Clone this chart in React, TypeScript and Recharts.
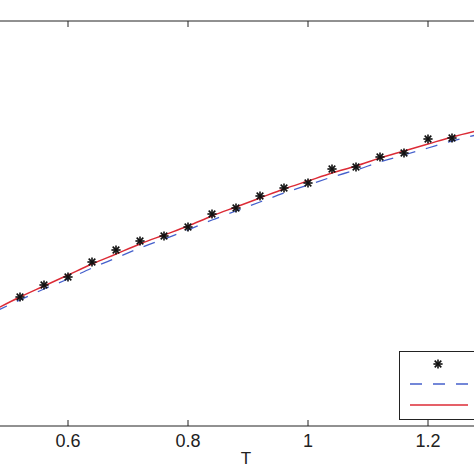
import React from 'react';
import { LineChart, Line, XAxis, YAxis, Legend, Label } from 'recharts';

// T grid shared by every series
const tValues = [0.48, 0.52, 0.56, 0.6, 0.64, 0.68, 0.72, 0.76, 0.8, 0.84, 0.88, 0.92, 0.96, 1.0, 1.04, 1.08, 1.12, 1.16, 1.2, 1.24, 1.28];
// measured points (asterisks)
const starValues = [null, 1.29, 1.41, 1.49, 1.64, 1.76, 1.85, 1.9, 1.99, 2.12, 2.18, 2.3, 2.38, 2.43, 2.57, 2.59, 2.69, 2.73, 2.87, 2.88, null];
// dashed blue curve
const blueValues = [1.15, 1.26, 1.37, 1.47, 1.58, 1.68, 1.78, 1.87, 1.96, 2.06, 2.15, 2.24, 2.33, 2.41, 2.49, 2.56, 2.64, 2.71, 2.78, 2.85, 2.91];
// solid red curve
const redValues = [1.17, 1.29, 1.4, 1.51, 1.62, 1.72, 1.82, 1.91, 2.0, 2.1, 2.19, 2.28, 2.37, 2.45, 2.53, 2.6, 2.68, 2.75, 2.82, 2.89, 2.95];
const xTicks = [0.6, 0.8, 1, 1.2];

const data = tValues.map((t, i) => ({
    t,
    star: starValues[i],
    blue: blueValues[i],
    red: redValues[i],
}));

const RED = '#dc2b36';
const BLUE = '#4560cc';
const AXIS = '#222';

const Asterisk = ({ cx, cy, r = 4.6 }: { cx: number; cy: number; r?: number }) => {
    const d = r * 0.72;
    return (
        <g stroke="#111" strokeWidth={1.6}>
            <line x1={cx - r} y1={cy} x2={cx + r} y2={cy} />
            <line x1={cx} y1={cy - r} x2={cx} y2={cy + r} />
            <line x1={cx - d} y1={cy - d} x2={cx + d} y2={cy + d} />
            <line x1={cx - d} y1={cy + d} x2={cx + d} y2={cy - d} />
        </g>
    );
};

const renderStar = (p: any) => {
    if (p.cx == null || p.cy == null || p.value == null) return <g key={p.index} />;
    return <Asterisk key={p.index} cx={p.cx} cy={p.cy} />;
};

const LegendBox = () => (
    <div style={{ width: 200, height: 69, border: `1px solid ${AXIS}`, background: '#fff', boxSizing: 'border-box' }}>
        <svg width={200} height={67}>
            <Asterisk cx={38} cy={12} />
            <line x1={10} y1={32} x2={68} y2={32} stroke={BLUE} strokeWidth={1.3} strokeDasharray="12 11" />
            <line x1={10} y1={53} x2={68} y2={53} stroke={RED} strokeWidth={1.4} />
        </svg>
    </div>
);

export default function App() {
    return (
        <div style={{ position: 'fixed', left: 0, top: 0, width: 474, height: 474, overflow: 'hidden', background: '#fff' }}>
            <div style={{ position: 'absolute', left: -40, top: 0 }}>
                <LineChart
                    width={572}
                    height={474}
                    data={data}
                    margin={{ top: 1, right: 0, bottom: 0, left: 0 }}
                    style={{ fontFamily: '"Liberation Sans", Arial, sans-serif' }}
                >
                    <XAxis
                        xAxisId="bottom"
                        dataKey="t"
                        type="number"
                        domain={[0.42, 1.37333]}
                        allowDataOverflow
                        ticks={xTicks}
                        tickFormatter={(v) => String(v)}
                        height={48}
                        tickSize={-6}
                        tickMargin={14}
                        stroke={AXIS}
                        tick={{ fill: AXIS, fontSize: 18 }}
                    >
                        <Label value="T" position="insideBottom" offset={10} fill={AXIS} fontSize={17} />
                    </XAxis>
                    <XAxis
                        xAxisId="top"
                        orientation="top"
                        dataKey="t"
                        type="number"
                        domain={[0.42, 1.37333]}
                        allowDataOverflow
                        ticks={xTicks}
                        height={20}
                        tickSize={-6}
                        stroke={AXIS}
                        tick={() => <g />}
                    />
                    <YAxis hide domain={[0, 4.05]} allowDataOverflow />
                    <Legend
                        layout="horizontal"
                        verticalAlign="middle"
                        align="center"
                        wrapperStyle={{ left: 439, top: 351, width: 200, height: 69 }}
                        content={() => <LegendBox />}
                    />
                    <Line
                        xAxisId="bottom"
                        dataKey="blue"
                        type="monotone"
                        stroke={BLUE}
                        strokeWidth={1.3}
                        strokeDasharray="12 11"
                        dot={false}
                        isAnimationActive={false}
                    />
                    <Line
                        xAxisId="bottom"
                        dataKey="red"
                        type="monotone"
                        stroke={RED}
                        strokeWidth={1.4}
                        dot={false}
                        isAnimationActive={false}
                    />
                    <Line
                        xAxisId="bottom"
                        dataKey="star"
                        stroke="none"
                        dot={renderStar}
                        activeDot={false}
                        isAnimationActive={false}
                    />
                </LineChart>
            </div>
        </div>
    );
}
